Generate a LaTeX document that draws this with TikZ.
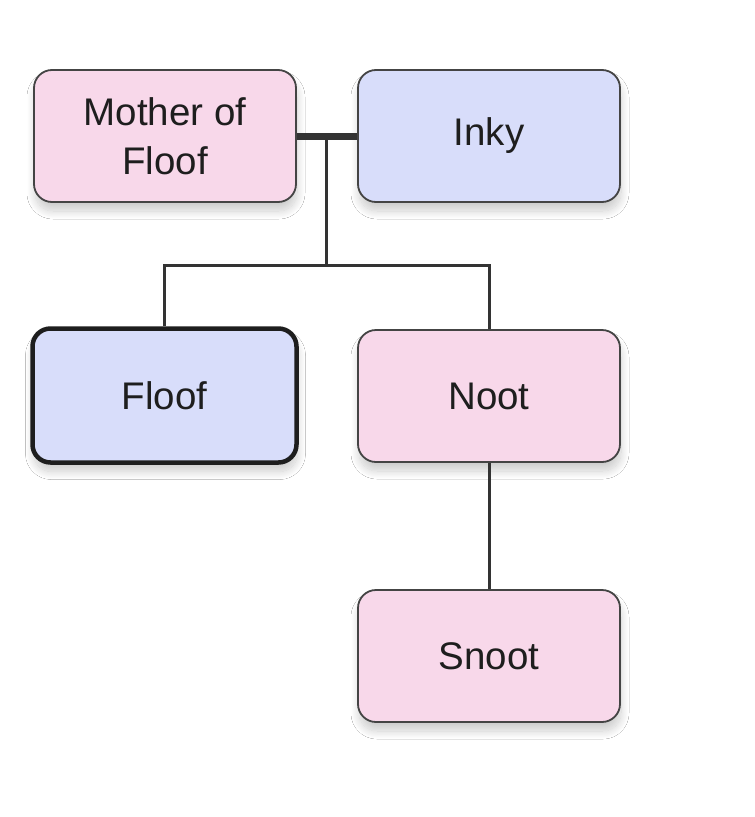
\documentclass[tikz,border=0pt]{standalone}
\usepackage{fontspec}
\setmainfont{Liberation Sans}
\usetikzlibrary{shadows.blur}
\definecolor{pinkfill}{HTML}{F8D8EA}
\definecolor{bluefill}{HTML}{D8DDFA}
\definecolor{edgegray}{HTML}{444444}
\definecolor{linegray}{HTML}{333333}
\definecolor{textgray}{HTML}{1E1E1E}
\tikzset{
  person/.style={draw=edgegray, line width=1.8pt, rounded corners=18pt,
    minimum width=262pt, minimum height=132pt, inner sep=0pt, align=center,
    text=textgray, font=\fontsize{38.5}{49}\selectfont,
    blur shadow={shadow xshift=1pt, shadow yshift=-9pt, shadow opacity=20, shadow blur radius=8pt, shadow blur steps=20}},
  female/.style={person, fill=pinkfill},
  male/.style={person, fill=bluefill},
  focus/.style={draw=textgray, line width=4.5pt},
  link/.style={draw=linegray, line width=3pt},
  marriage/.style={draw=linegray, line width=7pt}
}
\begin{document}
\begin{tikzpicture}[x=1pt,y=-1pt]
\useasboundingbox[fill=white] (0,0) rectangle (755,817);
\node[female] (mother) at (165,136) {Mother of\\Floof};
\node[male] (inky) at (489,136) {Inky};
\node[male, focus, minimum width=264pt, minimum height=134pt] (floof) at (164.5,395.5) {Floof};
\node[female] (noot) at (489,396) {Noot};
\node[female] (snoot) at (489,656) {Snoot};
\draw[marriage] (mother.east) -- (inky.west);
\coordinate (m) at (326,136);
\coordinate (j) at (326,265);
\draw[link] (m) -- (j);
\draw[link] (floof.north) |- (j) -| (noot.north);
\draw[link] (noot.south) -- (snoot.north);
\end{tikzpicture}
\end{document}
